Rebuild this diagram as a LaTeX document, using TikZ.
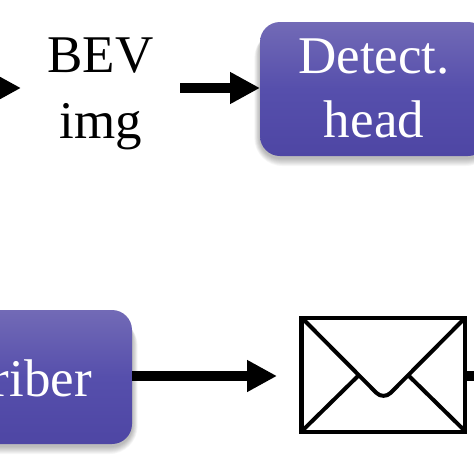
\documentclass[tikz,border=0pt]{standalone}
\usepackage{fontspec}
\setmainfont{Liberation Serif}
\usetikzlibrary{arrows.meta}
\definecolor{boxtop}{RGB}{114,106,182}
\definecolor{boxmid}{RGB}{86,79,172}
\definecolor{boxbot}{RGB}{78,70,164}
\tikzset{
  softlayer/.style={fill=black,fill opacity=.035},
  purplebox/.style={rounded corners=20pt,top color=boxtop,bottom color=boxbot,middle color=boxmid,
    minimum height=134pt,inner sep=0pt,outer sep=0pt},
  boxtext/.style={text=white,font=\fontsize{53}{64}\selectfont,align=center,inner sep=0pt},
  plaintext/.style={text=black,font=\fontsize{53}{66}\selectfont,align=center,inner sep=0pt,outer sep=0pt,minimum width=159pt},
  bigarrow/.style={line width=10.5pt,-{Triangle[length=30pt,width=30pt]}},
  stubline/.style={line width=10.5pt},
  envline/.style={line width=4pt,line join=round},
}
\begin{document}
\begin{tikzpicture}[x=1pt,y=-1pt]
\useasboundingbox (0,0) rectangle (474,474);
\clip (0,0) rectangle (474,474);
\fill[white] (0,0) rectangle (474,474);
% rows of the two connector lines
\coordinate (rowa) at (0,88);
\coordinate (rowb) at (0,376);
\coordinate (offleft) at (-40,88);
\coordinate (offright) at (490,376);
% soft shadows under the boxes
\foreach \e in {1,...,8}{
  \fill[softlayer,rounded corners={20pt+\e pt}] ({260-0.7*\e},30) rectangle ({488+0.7*\e},158+\e);
  \fill[softlayer,rounded corners={20pt+\e pt}] ({-28-0.7*\e},318) rectangle ({132+0.7*\e},446+\e);
}
% boxes
\node[purplebox,minimum width=228pt] (detect) at (374,89) {};
\node[purplebox,minimum width=160pt] (sub) at (52,377) {};
\node[boxtext] (detecttext) at (374,88.5) {Detect.\\head};
\node[boxtext,anchor=base east] (subtext) at (92,396) {riber};
% BEV label
\node[plaintext] (bev) at (100.5,93.5) {BEV\\img};
% envelope
\node[draw=black,line width=4.3pt,minimum width=163.3pt,minimum height=113.7pt,inner sep=0pt,outer sep=0pt,anchor=north west] (mail) at (301.6,318.2) {};
\coordinate (flapl) at (303,319);
\coordinate (flapr) at (464,319);
\coordinate (flapm) at (383.5,400);
\coordinate (lowl) at (302,431);
\coordinate (lowlend) at (358,376);
\coordinate (lowr) at (465,431);
\coordinate (lowrend) at (409,376);
\draw[envline,rounded corners=10pt] (flapl) -- (flapm) -- (flapr);
\draw[envline] (lowl) -- (lowlend);
\draw[envline] (lowr) -- (lowrend);
% connectors
\draw[bigarrow] (offleft) -- (bev.west |- offleft);
\draw[bigarrow] (bev.east |- rowa) -- (detect.west |- rowa);
\draw[bigarrow,shorten >=24.6pt] (sub.east |- rowb) -- (mail.west |- rowb);
\draw[stubline] (mail.east |- rowb) -- (offright);
\end{tikzpicture}
\end{document}
